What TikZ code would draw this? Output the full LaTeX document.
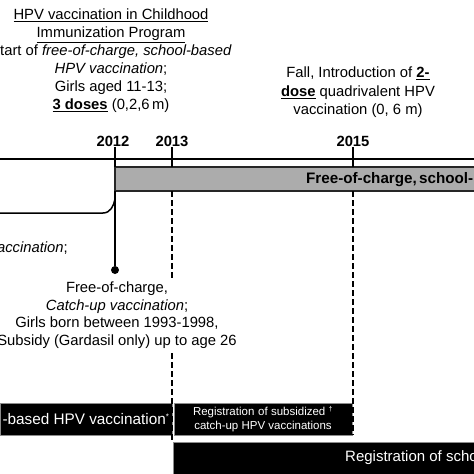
\documentclass[tikz,border=0pt]{standalone}
\usepackage{fontspec}
\setmainfont{Liberation Sans}
\usetikzlibrary{positioning}

\definecolor{barfill}{RGB}{172,172,172}
\definecolor{boxline}{RGB}{140,140,140}

\begin{document}
\begin{tikzpicture}[
        x = 1pt, y = -1pt,
        font = \fontsize{14.8}{18}\selectfont,
        axis/.style    = {line width=2pt},
        tick/.style    = {line width=2pt},
        year/.style    = {font=\fontsize{14.8}{18}\selectfont\bfseries, inner sep=0pt},
        link/.style    = {line width=1.5pt},
        dline/.style   = {line width=1.5pt, dash pattern=on 6pt off 3pt},
        pt/.style      = {circle, fill=black, inner sep=0pt, minimum size=8pt},
        fcbar/.style   = {draw=black!85, line width=1.2pt, fill=barfill, anchor=north west,
                          inner sep=0pt, outer sep=0pt},
        regbox/.style  = {draw=boxline, line width=0.8pt, fill=black, text=white, anchor=north west,
                          inner sep=0pt, outer sep=0pt, align=center},
        txtblock/.style = {align=center, inner sep=0pt}
    ]
    \useasboundingbox (0,0) rectangle (474,474);
    \clip (0,0) rectangle (474,474);

    % tijdlijn met jaartallen
    \coordinate (tlw) at (0,159);
    \coordinate (tle) at (474,159);
    \coordinate (y12) at (115,147);
    \coordinate (y13) at (172,147);
    \coordinate (y15) at (353,147);
    \draw[axis] (tlw) -- (tle);

    \node[year] (lab12) at (113,141) {2012};
    \node[year] (lab13) at (172,141) {2013};
    \node[year] (lab15) at (353,141) {2015};

    % grijze balk
    \node[fcbar, minimum width=370pt, minimum height=24pt] (fc) at (115,167) {};
    \node[anchor=west, font=\fontsize{15.2}{18}\selectfont\bfseries, inner sep=0pt] (fctext) at (306,180)
        {Free-of-charge,\hspace{0.15em}school-};

    \draw[tick] (y12) -- (y12 |- fc.north);
    \draw[tick] (y13) -- (y13 |- fc.north);
    \draw[tick] (y15) -- (y15 |- fc.north);

    % teksten boven de tijdlijn
    \node[txtblock, anchor=north] (nip) at (111,9)
        {\underline{HPV vaccination in Childhood}\\
         \underline{Immunization Program}\\
         Start of \textit{free-of-charge, school-based}\\
         \textit{HPV vaccination};\\
         Girls aged 11-13;\\
         \underline{\textbf{3 doses}} (0,2,6\,m)};
    \node[txtblock, anchor=north, font=\fontsize{14.8}{18.5}\selectfont] (twodose) at (358,67)
        {Fall, Introduction of \underline{\textbf{2-}}\\
         \underline{\textbf{dose}} quadrivalent HPV\\
         vaccination (0, 6 m)};

    % zwarte registratieblokken
    \node[regbox, minimum width=172pt, minimum height=32pt, font=\fontsize{15.3}{18}\selectfont] (regfree) at (0,403)
        {-based HPV vaccination\textsuperscript{\fontsize{8}{8}\selectfont *}};
    \node[regbox, minimum width=178pt, minimum height=32pt,
          font=\fontsize{11.5}{14}\selectfont] (regcatch) at (174,403)
        {Registration\,\,of subsidized \textsuperscript{\fontsize{7}{7}\selectfont\dag}\\
         catch-up HPV vaccinations};
    \node[regbox, minimum width=310pt, minimum height=40pt] (regschool) at (173,442) {};
    \node[anchor=west, text=white, inner sep=0pt, font=\fontsize{15}{18}\selectfont] (regschooltxt) at (345,458)
        {Registration of scho};

    % stippellijnen 2013 en 2015
    \draw[dline] (y13 |- fc.south) -- (y13 |- regschool.north);
    \draw[dline] (y15 |- fc.south) -- (y15 |- regcatch.south);

    % catch-up tak vanaf 2012
    \node[pt] (catchdot) at (115,270) {};
    \draw[link] (y12 |- fc.south) -- (catchdot);
    \coordinate (prevw) at (0,213);
    \draw[link] (prevw) -- (103,213) to[out=0, in=-100] (115,199);
    \node[anchor=east, inner sep=0pt] (prevtxt) at (68,248) {\textit{vaccination};};

    \node[txtblock, anchor=north, fill=white, inner ysep=4pt, font=\fontsize{14.8}{17.5}\selectfont]
        (catchtxt) at (117,278)
        {Free-of-charge,\\
         \textit{Catch-up vaccination};\\
         Girls born between 1993-1998,\\
         Subsidy (Gardasil only) up to age 26};
\end{tikzpicture}
\end{document}
